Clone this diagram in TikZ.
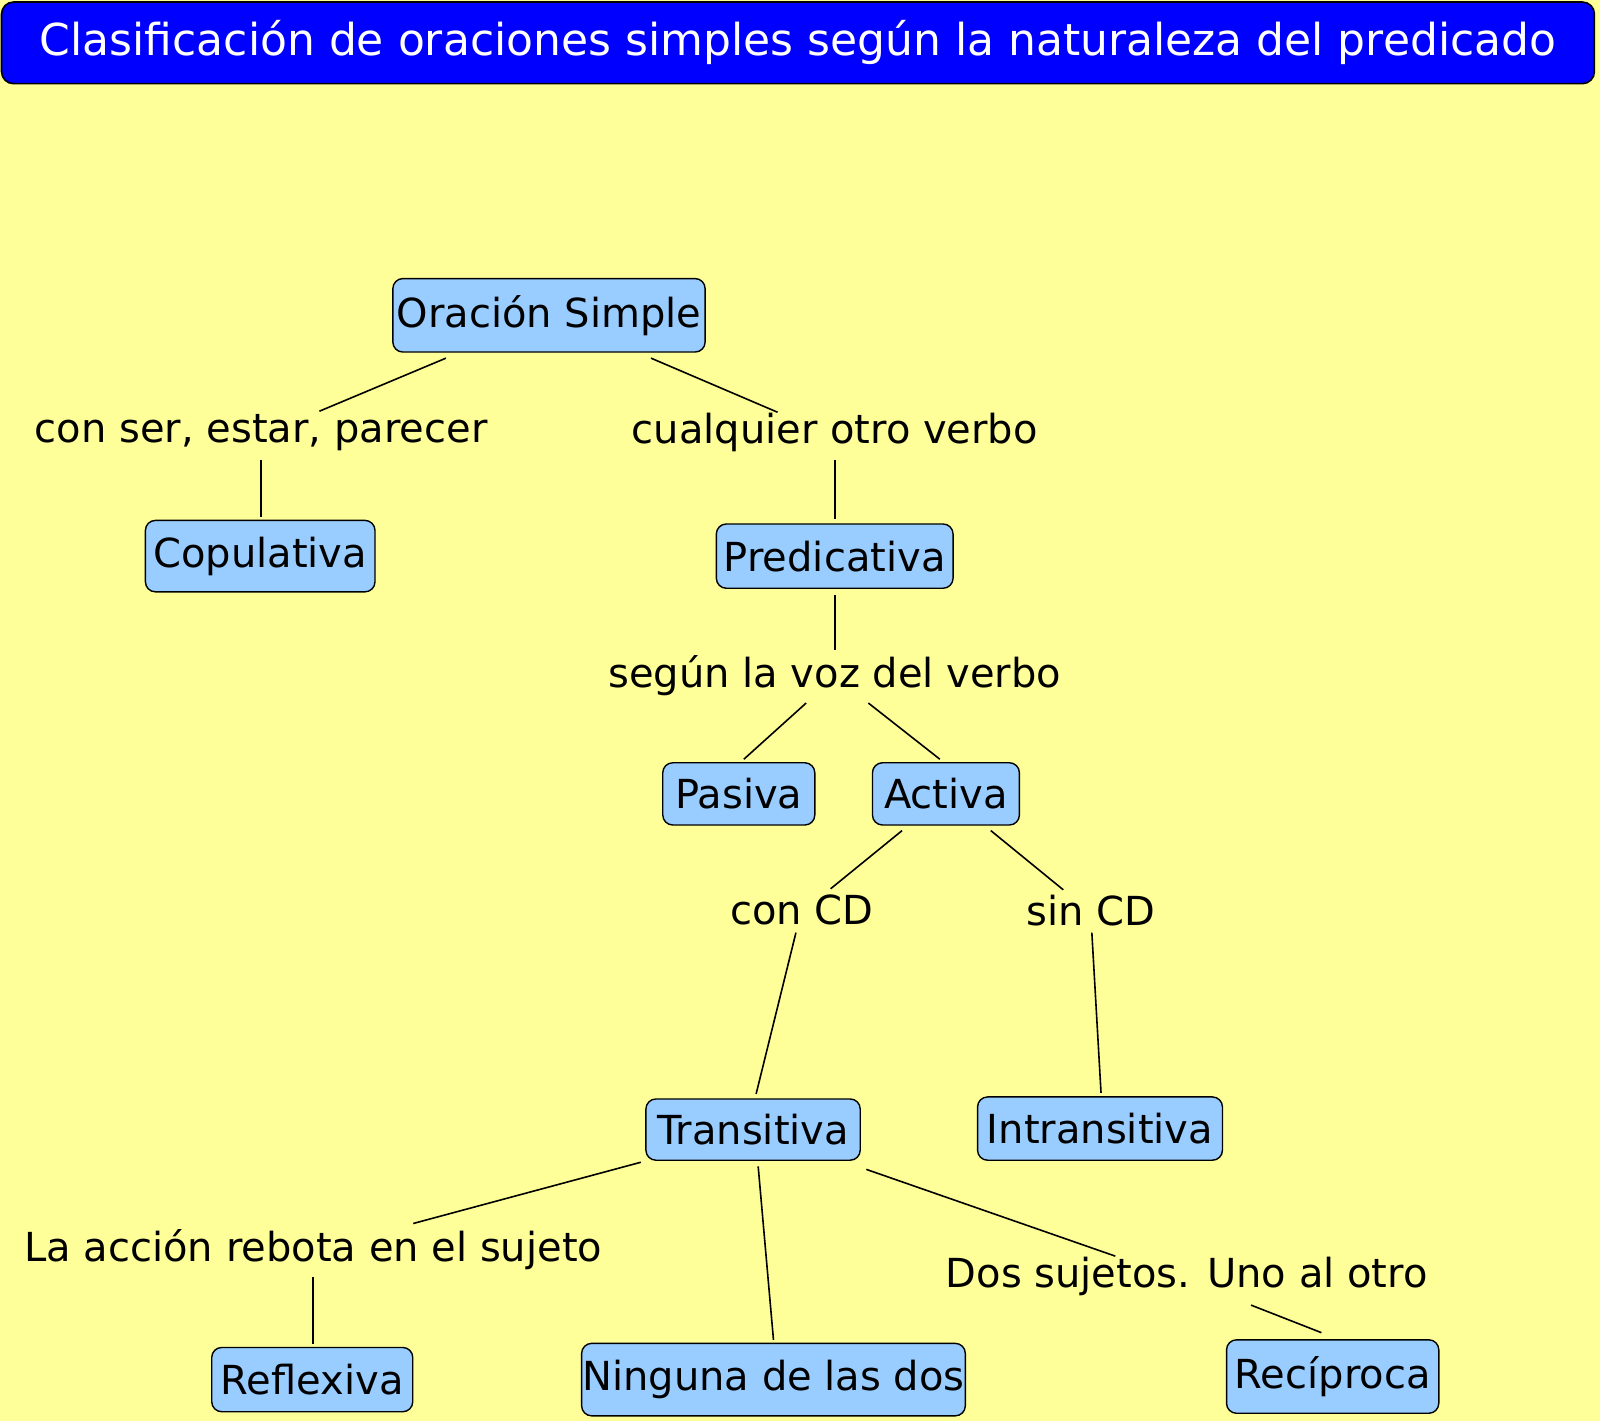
\documentclass[tikz,border=0pt]{standalone}
\usepackage{fontspec}
\setmainfont{DejaVu Sans}
\usetikzlibrary{calc}
\definecolor{bg}{HTML}{FFFF99}
\definecolor{boxc}{HTML}{99CCFF}
\begin{document}
\begin{tikzpicture}[x=0.5102pt,y=-0.5102pt,
  box/.style={draw=black,fill=boxc,rounded corners=5pt,line width=0.7pt,font=\fontsize{20}{24}\selectfont,inner sep=0pt},
  lbl/.style={font=\fontsize{20}{24}\selectfont,inner sep=0pt},
  conn/.style={line width=0.8pt}]
\fill[bg] (0,0) rectangle (1568,1393);
\useasboundingbox (0,0) rectangle (1568,1393);
\node[draw=black,fill=blue,rounded corners=6pt,line width=0.8pt,text=white,font=\fontsize{22}{26}\selectfont,minimum width=1561*0.5102pt,minimum height=80*0.5102pt] (title) at (782,42) {Clasificación de oraciones simples según la naturaleza del predicado};
\node[box,minimum width=306*0.5102pt,minimum height=72*0.5102pt] (os) at (538,309) {Oración Simple};
\node[box,minimum width=225*0.5102pt,minimum height=70*0.5102pt] (cop) at (255,545) {Copulativa};
\node[box,minimum width=232*0.5102pt,minimum height=63*0.5102pt] (pred) at (818,545) {Predicativa};
\node[box,minimum width=149*0.5102pt,minimum height=61*0.5102pt] (pas) at (724,778) {Pasiva};
\node[box,minimum width=144*0.5102pt,minimum height=61*0.5102pt] (act) at (927,778) {Activa};
\node[box,minimum width=210*0.5102pt,minimum height=60*0.5102pt] (tr) at (738,1107) {Transitiva};
\node[box,minimum width=240*0.5102pt,minimum height=62*0.5102pt] (intr) at (1078,1106) {Intransitiva};
\node[box,minimum width=197*0.5102pt,minimum height=63*0.5102pt] (ref) at (306,1352) {Reflexiva};
\node[box,minimum width=376*0.5102pt,minimum height=71*0.5102pt] (nin) at (758,1352) {Ninguna de las dos};
\node[box,minimum width=208*0.5102pt,minimum height=72*0.5102pt] (rec) at (1306,1349) {Recíproca};
\node[lbl] (cs) at (256,424) {con ser, estar, parecer};
\node[lbl] (co) at (818,424) {cualquier otro verbo};
\node[lbl] (voz) at (818,662) {según la voz del verbo};
\node[lbl] (ccd) at (786,892) {con CD};
\node[lbl] (scd) at (1069,892) {sin CD};
\node[lbl] (acc) at (307,1225) {La acción rebota en el sujeto};
\node[lbl] (dos) at (1163,1251) {Dos sujetos. Uno al otro};
\draw[conn] ($(os)+(-101,42)$) -- ($(cs)+(57,-21)$);
\draw[conn] ($(os)+(100,42)$) -- ($(co)+(-56,-20)$);
\draw[conn] ($(cs)+(0,27)$) -- ($(cop)+(1,-38)$);
\draw[conn] ($(co)+(0,27)$) -- ($(pred)+(0,-36)$);
\draw[conn] ($(pred)+(0,38)$) -- ($(voz)+(0,-25)$);
\draw[conn] ($(voz)+(-28,27)$) -- ($(pas)+(5,-34)$);
\draw[conn] ($(voz)+(33,27)$) -- ($(act)+(-6,-34)$);
\draw[conn] ($(act)+(-43,36)$) -- ($(ccd)+(28,-21)$);
\draw[conn] ($(act)+(44,36)$) -- ($(scd)+(-27,-20)$);
\draw[conn] ($(ccd)+(-6,22)$) -- ($(tr)+(3,-35)$);
\draw[conn] ($(scd)+(1,22)$) -- ($(intr)+(1,-35)$);
\draw[conn] ($(tr)+(-110,32)$) -- ($(acc)+(98,-26)$);
\draw[conn] ($(acc)+(0,26)$) -- ($(ref)+(1,-35)$);
\draw[conn] ($(tr)+(5,36)$) -- ($(nin)+(0,-39)$);
\draw[conn] ($(tr)+(111,39)$) -- ($(dos)+(-70,-20)$);
\draw[conn] ($(dos)+(63,28)$) -- ($(rec)+(-11,-43)$);
\end{tikzpicture}
\end{document}
